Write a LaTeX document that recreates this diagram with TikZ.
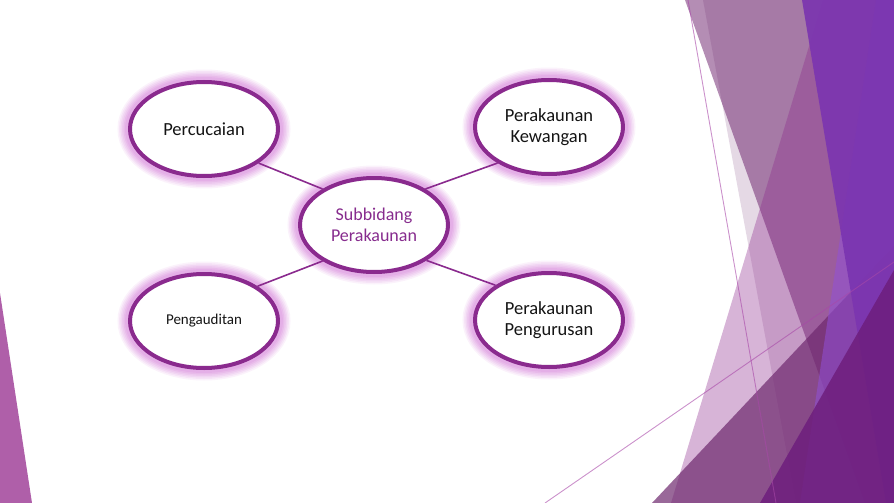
\documentclass[tikz,border=0pt]{standalone}
\usepackage{fontspec}
\setmainfont{Carlito}
\usepackage{xcolor}
\usepackage{tikz}
\usetikzlibrary{shapes.geometric}
\definecolor{darkpurple}{RGB}{138, 42, 142}
\definecolor{glowpurple}{RGB}{200, 90, 205}
\definecolor{textpurple}{RGB}{135, 44, 142}
\definecolor{textgray}{RGB}{20, 20, 20}
\definecolor{cornerpink}{RGB}{175, 95, 169}
\definecolor{facetmauve}{RGB}{120, 50, 120}
\definecolor{facetpale}{RGB}{100, 30, 100}
\definecolor{facetpink}{RGB}{140, 40, 140}
\definecolor{facetdark}{RGB}{110, 40, 110}
\definecolor{facetlilac}{RGB}{145, 80, 215}
\definecolor{facetviolet}{RGB}{123, 53, 176}
\definecolor{facetplum}{RGB}{110, 30, 125}
\definecolor{facetline}{RGB}{168, 72, 168}

\begin{document}
\begin{tikzpicture}[x=1pt, y=-1pt,
    bubble/.style={ellipse, draw=darkpurple, line width=4pt, fill=white,
        minimum width=148pt, minimum height=94pt, inner sep=0pt, align=center,
        text=textgray, font=\fontsize{18.5}{20.5}\selectfont,
        preaction={draw=glowpurple, draw opacity=0.08, line width=25pt},
        preaction={draw=glowpurple, draw opacity=0.09, line width=22pt},
        preaction={draw=glowpurple, draw opacity=0.1, line width=19pt},
        preaction={draw=glowpurple, draw opacity=0.11, line width=16pt},
        preaction={draw=glowpurple, draw opacity=0.12, line width=13pt},
        preaction={draw=glowpurple, draw opacity=0.13, line width=10pt}},
    link/.style={draw=darkpurple, line width=1.6pt}]
    \useasboundingbox (0,0) rectangle (894,503);

    % Facet shapes on the right
    \fill[facetmauve, opacity=0.556] (685,0) -- (865,503) -- (894,503) -- (894,0) -- cycle;
    \fill[facetpale, opacity=0.17] (703,0) -- (796,503) -- (894,503) -- (894,0) -- cycle;
    \fill[facetpink, opacity=0.35] (823,0) -- (671,503) -- (894,503) -- (894,0) -- cycle;
    \fill[facetdark, opacity=0.7] (652,503) -- (894,246) -- (894,503) -- cycle;
    \fill[facetlilac, opacity=0.55] (876,0) -- (800,503) -- (894,503) -- (894,0) -- cycle;
    \fill[facetviolet, opacity=0.92] (802,0) -- (886,503) -- (894,503) -- (894,0) -- cycle;
    \fill[facetplum, opacity=0.85] (760,503) -- (894,270) -- (894,503) -- cycle;
    \draw[facetline, opacity=0.6, line width=0.9pt] (688,0) -- (776,503);
    \draw[facetline, opacity=0.6, line width=0.9pt] (545,503) -- (894,262);

    % Corner shape on the left
    \fill[cornerpink] (0,293) -- (32,503) -- (0,503) -- cycle;

    % Centre and the four branches
    \node[bubble, text=textpurple, font=\fontsize{18}{20.5}\selectfont] (subbidang) at (374,225) {Subbidang\\Perakaunan};
    \node[bubble] (cukai) at (204,129) {Percucaian};
    \node[bubble] (kewangan) at (549,127) {Perakaunan\\Kewangan};
    \node[bubble, font=\fontsize{15}{18}\selectfont] (audit) at (204,321) {Pengauditan};
    \node[bubble] (pengurusan) at (549,320) {Perakaunan\\Pengurusan};

    % Connectors
    \draw[link] (cukai.-32) -- (subbidang.145);
    \draw[link] (kewangan.-145) -- (subbidang.35);
    \draw[link] (audit.33) -- (subbidang.-145);
    \draw[link] (pengurusan.147) -- (subbidang.-34);
\end{tikzpicture}
\end{document}
